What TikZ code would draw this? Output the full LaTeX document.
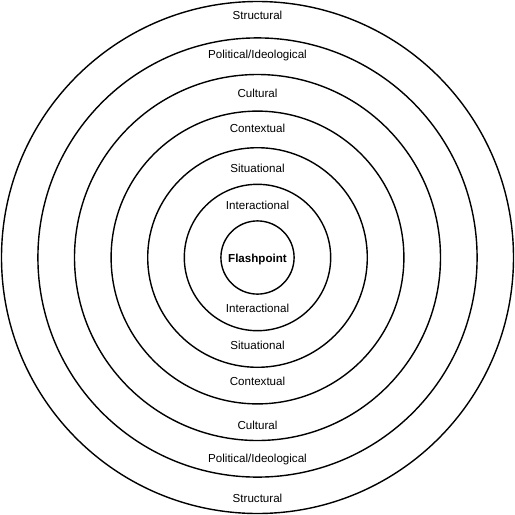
\documentclass[tikz,border=0pt]{standalone}
\usepackage{fontspec}
\setmainfont{Liberation Sans}
\begin{document}
\begin{tikzpicture}[x=1pt,y=-1pt,
  ring/.style={draw=black,line width=1.4pt},
  lbl/.style={inner sep=0pt,text height=8.3pt,text depth=0pt,font=\fontsize{11.6}{13}\selectfont},
  core/.style={lbl,font=\fontsize{11.6}{13}\selectfont\bfseries}]
\useasboundingbox (0,0) rectangle (515,515);
\coordinate (c) at (257.5,257.5);
\foreach \r in {36.6,73.2,109.8,146.4,183,219.6,256}
  \draw[ring] (c) circle[radius=\r];
\node[core] (fp) at (257.5,258) {Flashpoint};
\node[lbl] (t1) at (257.5,15.7) {Structural};
\node[lbl] (t2) at (257.5,54.3) {Political/Ideological};
\node[lbl] (t3) at (257.5,93.3) {Cultural};
\node[lbl] (t4) at (257.5,128.8) {Contextual};
\node[lbl] (t5) at (257.5,168.3) {Situational};
\node[lbl] (t6) at (257.5,205) {Interactional};
\node[lbl] (b6) at (257.5,308.5) {Interactional};
\node[lbl] (b5) at (257.5,345) {Situational};
\node[lbl] (b4) at (257.5,381) {Contextual};
\node[lbl] (b3) at (257.5,425) {Cultural};
\node[lbl] (b2) at (257.5,458.5) {Political/Ideological};
\node[lbl] (b1) at (257.5,498) {Structural};
\end{tikzpicture}
\end{document}
